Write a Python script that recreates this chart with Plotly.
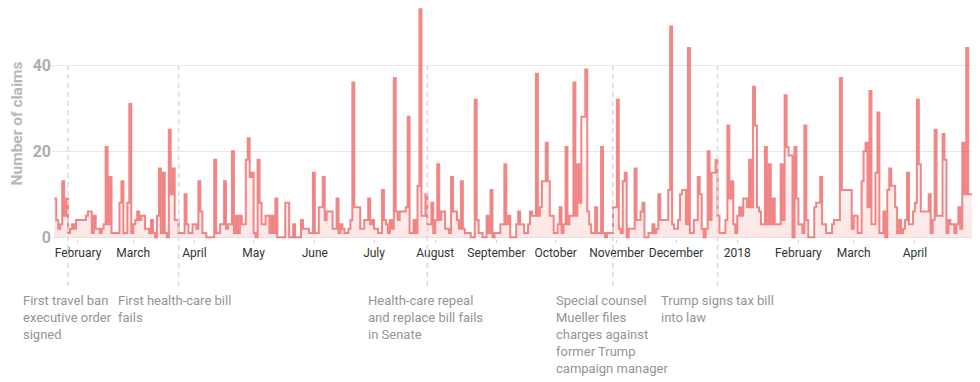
import pandas as pd
import plotly.graph_objects as go

# ---------------- data (daily number of claims) ----------------
start_date = "2017-01-20"
claims_2017_01 = [9, 4, 2, 3, 13, 5, 9, 1, 2, 3, 2, 4]
claims_2017_02 = [4, 4, 4, 4, 5, 6, 6, 1, 5, 2, 2, 1, 2, 3, 21, 3, 14, 1, 1, 1,
                  1, 8, 13, 1, 1, 8, 31, 1]
claims_2017_03 = [3, 4, 6, 4, 5, 5, 2, 2, 1, 4, 1, 0, 5, 16, 1, 15, 1, 0, 25, 10,
                  16, 4, 4, 1, 1, 1, 10, 3, 1, 1, 3]
claims_2017_04 = [3, 2, 13, 6, 1, 1, 0, 0, 0, 0, 18, 1, 1, 3, 3, 13, 2, 3, 3, 20,
                  1, 5, 1, 5, 3, 3, 18, 23, 14, 15]
claims_2017_05 = [1, 0, 18, 8, 3, 3, 5, 5, 1, 5, 1, 9, 0, 0, 0, 0, 8, 8, 0, 0,
                  3, 0, 0, 0, 4, 2, 2, 2, 1, 1, 15]
claims_2017_06 = [1, 1, 7, 7, 14, 4, 6, 6, 6, 2, 2, 9, 1, 3, 2, 1, 1, 2, 4, 36,
                  7, 7, 7, 2, 2, 4, 4, 9, 3, 4]
claims_2017_07 = [2, 2, 1, 1, 11, 4, 3, 1, 4, 2, 37, 6, 4, 6, 6, 6, 7, 28, 1, 1,
                  4, 1, 12, 53, 5, 5, 10, 3, 3, 8, 1]
claims_2017_08 = [4, 17, 4, 6, 6, 2, 2, 1, 14, 6, 6, 4, 2, 13, 2, 1, 1, 1, 0, 0,
                  32, 4, 1, 1, 0, 0, 5, 1, 11, 0, 1]
claims_2017_09 = [1, 1, 3, 3, 17, 3, 5, 0, 0, 0, 3, 6, 3, 3, 1, 1, 3, 6, 5, 5,
                  38, 5, 7, 13, 13, 22, 13, 5, 5, 1]
claims_2017_10 = [1, 3, 7, 1, 3, 21, 3, 5, 5, 36, 5, 17, 8, 28, 28, 39, 6, 3, 1, 1,
                  7, 1, 1, 21, 1, 0, 1, 1, 1, 7, 7]
claims_2017_11 = [32, 2, 1, 13, 15, 0, 2, 2, 2, 16, 4, 4, 6, 8, 0, 0, 1, 1, 3, 1,
                  2, 10, 4, 4, 4, 4, 11, 49, 3, 2]
claims_2017_12 = [2, 4, 10, 11, 11, 3, 44, 1, 1, 4, 4, 14, 10, 2, 0, 2, 20, 4, 15, 15,
                  18, 5, 1, 1, 1, 4, 26, 9, 13, 3, 1]
claims_2018_01 = [5, 7, 5, 9, 9, 7, 18, 7, 35, 26, 7, 6, 3, 3, 21, 3, 17, 3, 9, 3,
                  3, 3, 17, 4, 33, 21, 19, 19, 0, 21, 9]
claims_2018_02 = [3, 3, 1, 26, 4, 0, 0, 0, 7, 8, 8, 14, 3, 3, 1, 1, 1, 3, 4, 4,
                  4, 37, 11, 11, 11, 11, 11, 2]
claims_2018_03 = [5, 5, 1, 1, 13, 20, 22, 7, 34, 3, 3, 15, 29, 1, 1, 6, 0, 11, 16, 12,
                  12, 7, 1, 4, 1, 2, 4, 15, 3, 3, 6]
claims_2018_04 = [8, 32, 17, 6, 6, 6, 6, 10, 1, 4, 25, 5, 5, 5, 24, 18, 1, 4, 3, 3,
                  1, 3, 7, 2, 22, 10, 44, 10, 10]

claims = (claims_2017_01 + claims_2017_02 + claims_2017_03 + claims_2017_04 +
          claims_2017_05 + claims_2017_06 + claims_2017_07 + claims_2017_08 +
          claims_2017_09 + claims_2017_10 + claims_2017_11 + claims_2017_12 +
          claims_2018_01 + claims_2018_02 + claims_2018_03 + claims_2018_04)

tick_dates = ["2017-02-01", "2017-03-01", "2017-04-01", "2017-05-01", "2017-06-01",
              "2017-07-01", "2017-08-01", "2017-09-01", "2017-10-01", "2017-11-01",
              "2017-12-01", "2018-01-01", "2018-02-01", "2018-03-01", "2018-04-01"]
tick_labels = ["February", "March", "April", "May", "June", "July", "August",
               "September", "October", "November", "December", "2018",
               "February", "March", "April"]

event_dates = ["2017-01-27", "2017-03-24", "2017-07-28", "2017-10-30", "2017-12-22"]
event_labels = [
    "First travel ban<br>executive order<br>signed",
    "First health-care bill<br>fails",
    "Health-care repeal<br>and replace bill fails<br>in Senate",
    "Special counsel<br>Mueller files<br>charges against<br>former Trump<br>campaign manager",
    "Trump signs tax bill<br>into law",
]
y_ticks = [0, 20, 40]

# ---------------- layout constants ----------------
# the page body adds an 8px offset, so the figure is 8px smaller each way
W, H = 972, 374
ML, MR, MT, MB = 44, 7, 0, 143
Y_RANGE = [-0.4, 53.3]
X_RANGE = ["2017-01-18 20:00", "2018-04-30 10:30"]
FONT = "Roboto, 'Libre Franklin', Arial, sans-serif"

plot_w = W - ML - MR
plot_h = H - MT - MB


def px_to_paper_x(px):
    return (px - ML) / plot_w


def px_to_paper_y(py):
    return (H - MB - py) / plot_h


def val_to_paper_y(v):
    return (v - Y_RANGE[0]) / (Y_RANGE[1] - Y_RANGE[0])


dates = pd.date_range(start_date, periods=len(claims), freq="D")
x_vals = list(dates) + [dates[-1] + pd.Timedelta(days=1)]
y_vals = claims + [claims[-1]]

fig = go.Figure()
fig.add_trace(go.Scatter(
    x=x_vals, y=y_vals,
    mode="lines",
    line=dict(shape="hv", color="rgba(234,76,76,0.66)", width=2),
    fill="tozeroy",
    fillgradient=dict(
        type="vertical",
        colorscale=[[0, "rgba(240,110,110,0.17)"], [1, "rgba(240,110,110,0.02)"]],
        start=0, stop=25,
    ),
    hoverinfo="skip",
    showlegend=False,
))

# dashed event lines
for d in event_dates:
    fig.add_shape(
        type="line", xref="x", yref="paper",
        x0=d, x1=d,
        y0=px_to_paper_y(278), y1=val_to_paper_y(y_ticks[-1]),
        line=dict(color="#dcdcdc", width=1.6, dash="5px,4px"),
        layer="above",
    )

# event annotations
text_left_px = [13, 108, 358, 546, 651]
for lbl, px in zip(event_labels, text_left_px):
    fig.add_annotation(
        text=lbl, xref="paper", yref="paper",
        x=px_to_paper_x(px), y=px_to_paper_y(283),
        xanchor="left", yanchor="top", align="left",
        showarrow=False,
        font=dict(family=FONT, size=13, color="#959595"),
    )

fig.update_layout(
    width=W, height=H,
    margin=dict(l=ML, r=MR, t=MT, b=MB, autoexpand=False),
    paper_bgcolor="white", plot_bgcolor="white",
    font=dict(family=FONT),
    xaxis=dict(
        type="date", range=X_RANGE,
        tickvals=tick_dates, ticktext=tick_labels, tickangle=0,
        tickfont=dict(family=FONT, size=12, color="#333333"),
        ticks="outside", ticklen=3, tickcolor="#d5d5d5", tickwidth=1,
        showgrid=False, zeroline=False, showline=False,
        automargin=False, fixedrange=True,
    ),
    yaxis=dict(
        range=Y_RANGE, tickvals=y_ticks,
        tickfont=dict(family=FONT, size=16, color="#adadad", weight="bold"),
        showgrid=True, gridcolor="#e8e8e8", gridwidth=1,
        zeroline=False, showline=False, ticks="",
        title=dict(text="Number of claims", standoff=13,
                   font=dict(family=FONT, size=15.5, color="#b8b8b8", weight="bold")),
        automargin=False, fixedrange=True,
    ),
)

fig.write_html("out.html")
